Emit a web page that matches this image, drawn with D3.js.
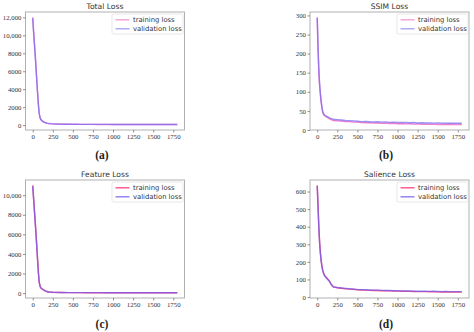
<!DOCTYPE html>
<html>
<head>
<meta charset="utf-8">
<script src="https://cdn.jsdelivr.net/npm/d3@7"></script>
<style>
  html, body { margin: 0; padding: 0; background: #fff; }
  svg { display: block; }
</style>
</head>
<body>
<svg id="chart" width="474" height="332"></svg>
<script>
// ---------------- DATA ----------------
const epochs = [0,10,20,30,40,50,60,70,80,90,100,125,150,175,200,250,300,350,400,450,500,550,600,650,700,750,800,850,900,950,1000,1050,1100,1150,1200,1250,1300,1350,1400,1450,1500,1550,1600,1650,1700,1750,1800];

const totalTrain = [12000,10600,9300,8000,6600,5100,3700,2400,1400,900,650,420,300,220,170,130,110,100,95,90,85,82,80,78,76,75,73,72,71,70,69,68,67,66,66,65,64,64,63,63,62,62,61,61,60,60,60];
const totalVal   = [11900,10400,9100,7900,6500,5000,3600,2300,1300,850,620,400,290,215,168,132,114,104,98,93,89,86,84,82,80,79,78,77,76,75,74,74,73,72,72,71,71,70,70,69,69,69,68,68,68,67,67];

const ssimTrain = [295,210,150,115,90,70,55,45,40,38,36,33,30,27,25,24,23.5,22,22,21,20.5,19.5,19,19.5,18,18.5,17.5,18,17,17.5,16.5,17,16,16.5,15.5,16,15,15.5,15,15.5,14.5,15,14.5,15,14.5,14,14.5];
const ssimVal   = [293,220,160,120,95,75,58,48,43,40,38,35,32,30,28,27,26,25,24.5,24,23,22,22.5,21.5,21,21.5,20.5,21,20,20.5,19.5,20,19.5,19,19.5,18.5,19,18.5,18.5,18,18.5,18,17.5,18,17.5,18,17.5];

const featTrain = [11000,9800,8600,7400,6200,4900,3500,2200,1200,750,550,380,250,160,110,80,65,58,53,50,47,45,44,43,42,41,40,40,39,39,38,38,37,37,37,36,36,36,35,35,35,35,35,34,34,34,34];
const featVal   = [10900,9700,8500,7300,6100,4800,3400,2100,1150,720,530,370,245,158,112,84,70,62,57,54,51,49,48,47,46,45,44,44,43,43,42,42,41,41,41,40,40,40,39,39,39,39,38,38,38,38,38];

const salTrain = [635,520,400,310,250,205,170,150,135,125,118,105,92,72,58,53,50,47,45,44,41,40,39,38,37.5,37,36,35.5,35,34,33.5,33,32.5,32,31.5,31,31,30.5,30,30.5,29.5,29,29.5,29,28.5,29,29];
const salVal   = [630,515,395,305,245,200,168,148,133,123,116,103,90,71,58,54,51,49,47,45,43,42,41,40,39,39.5,38,37.5,37,36,35.5,35,34.5,34,33.5,33,33,32.5,32,32.5,31.5,31,31.5,31,30.5,31,31];

const xTicks = [0,250,500,750,1000,1250,1500,1750];
const totalYTicks = [0,2000,4000,6000,8000,10000,12000];
const totalYLabels = ["0","2000","4000","6000","8000","10,000","12,000"];
const ssimYTicks = [0,50,100,150,200,250,300];
const ssimYLabels = ["0","50","100","150","200","250","300"];
const featYTicks = [0,2000,4000,6000,8000,10000];
const featYLabels = ["0","2000","4000","6000","8000","10,000"];
const salYTicks = [0,100,200,300,400,500,600];
const salYLabels = ["0","100","200","300","400","500","600"];

const titles = ["Total Loss","SSIM Loss","Feature Loss","Salience Loss"];
const panelLabels = ["(a)","(b)","(c)","(d)"];
const seriesNames = ["training loss","validation loss"];

// ---------------- LAYOUT ----------------
const panels = [
  {title: titles[0], label: panelLabels[0], train: totalTrain, val: totalVal, yTicks: totalYTicks, yLabels: totalYLabels,
   box: {x0: 25.5, x1: 184.5, y0: 12, y1: 130}, yDomain: [-547, 12600], labelX: 102, labelY: 159,
   legend: {x: 112, y: 14, w: 71, h: 20}, trainColor: "#f06ac8", valColor: "#7b6cf0", legTrain: "#f3a0d9", legVal: "#a8a6f2"},
  {title: titles[1], label: panelLabels[1], train: ssimTrain, val: ssimVal, yTicks: ssimYTicks, yLabels: ssimYLabels,
   box: {x0: 310, x1: 469, y0: 12, y1: 130}, yDomain: [0, 309], labelX: 386, labelY: 159,
   legend: {x: 397, y: 14, w: 71, h: 20}, trainColor: "#f06ac8", valColor: "#7b6cf0", legTrain: "#f3a0d9", legVal: "#a8a6f2"},
  {title: titles[2], label: panelLabels[2], train: featTrain, val: featVal, yTicks: featYTicks, yLabels: featYLabels,
   box: {x0: 25.5, x1: 184.5, y0: 180, y1: 298}, yDomain: [-500, 11550], labelX: 102, labelY: 328,
   legend: {x: 112, y: 182, w: 71, h: 20}, trainColor: "#ff2f6e", valColor: "#6e5cf0", legTrain: "#ff4f86", legVal: "#8c7cf2"},
  {title: titles[3], label: panelLabels[3], train: salTrain, val: salVal, yTicks: salYTicks, yLabels: salYLabels,
   box: {x0: 310, x1: 469, y0: 180, y1: 298}, yDomain: [-5.5, 665.5], labelX: 386, labelY: 328,
   legend: {x: 397, y: 182, w: 71, h: 20}, trainColor: "#ff2f6e", valColor: "#6e5cf0", legTrain: "#ff4f86", legVal: "#8c7cf2"}
];

const svg = d3.select("#chart");
const serif = "'Liberation Serif','Times New Roman',serif";
const sans = "'DejaVu Sans','Liberation Sans',sans-serif";

panels.forEach(p => {
  const b = p.box;
  const x = d3.scaleLinear().domain([-90, 1890]).range([b.x0, b.x1]);
  const y = d3.scaleLinear().domain(p.yDomain).range([b.y1, b.y0]);
  const g = svg.append("g");

  const clipId = "clip" + p.label.replace(/[()]/g, "");
  svg.append("clipPath").attr("id", clipId).append("rect")
    .attr("x", b.x0).attr("y", b.y0).attr("width", b.x1 - b.x0).attr("height", b.y1 - b.y0);

  const line = d3.line().x((d, i) => x(epochs[i])).y(d => y(d));
  const lg = g.append("g").attr("clip-path", `url(#${clipId})`);
  lg.append("path").datum(p.train).attr("d", line)
    .attr("fill", "none").attr("stroke", p.trainColor).attr("stroke-width", 1.4).attr("stroke-opacity", 0.85);
  lg.append("path").datum(p.val).attr("d", line)
    .attr("fill", "none").attr("stroke", p.valColor).attr("stroke-width", 1.4).attr("stroke-opacity", 0.75);

  g.append("rect").attr("x", b.x0).attr("y", b.y0).attr("width", b.x1 - b.x0).attr("height", b.y1 - b.y0)
    .attr("fill", "none").attr("stroke", "#a8a8a8").attr("stroke-width", 0.9);

  const xa = g.append("g").attr("transform", `translate(0,${b.y1})`)
    .call(d3.axisBottom(x).tickValues(xTicks).tickSize(2.5).tickPadding(1.5).tickFormat(d3.format("d")));
  xa.attr("font-family", serif);
  xa.select(".domain").remove();
  xa.selectAll("line").attr("stroke", "#666").attr("stroke-width", 0.7);
  xa.selectAll("text").style("font-family", serif).style("font-size", "6.8px").attr("fill", "#333");

  const ya = g.append("g").attr("transform", `translate(${b.x0},0)`)
    .call(d3.axisLeft(y).tickValues(p.yTicks).tickSize(2.5).tickPadding(1.5).tickFormat((d, i) => p.yLabels[i]));
  ya.attr("font-family", serif);
  ya.select(".domain").remove();
  ya.selectAll("line").attr("stroke", "#666").attr("stroke-width", 0.7);
  ya.selectAll("text").style("font-family", serif).style("font-size", "6.8px").attr("fill", "#333");

  g.append("text").attr("x", (b.x0 + b.x1) / 2).attr("y", b.y0 - 3)
    .attr("text-anchor", "middle").style("font-family", sans).style("font-size", "7.6px").attr("fill", "#333")
    .text(p.title);

  const L = p.legend;
  const lgd = g.append("g");
  lgd.append("rect").attr("x", L.x).attr("y", L.y).attr("width", L.w).attr("height", L.h).attr("rx", 1.5)
    .attr("fill", "#fff").attr("fill-opacity", 0.8).attr("stroke", "#dcdcdc").attr("stroke-width", 0.7);
  [p.legTrain, p.legVal].forEach((c, i) => {
    const yy = L.y + 5.8 + i * 9;
    lgd.append("line").attr("x1", L.x + 3.5).attr("x2", L.x + 17.5).attr("y1", yy).attr("y2", yy)
      .attr("stroke", c).attr("stroke-width", 1.4);
    lgd.append("text").attr("x", L.x + 21).attr("y", yy).attr("dy", "0.35em")
      .style("font-family", sans).style("font-size", "6.8px").attr("fill", "#333").text(seriesNames[i]);
  });

  g.append("text").attr("x", p.labelX).attr("y", p.labelY).attr("text-anchor", "middle")
    .style("font-family", serif).style("font-weight", "bold").style("font-size", "11.5px").attr("fill", "#222")
    .text(p.label);
});
</script>
</body>
</html>
